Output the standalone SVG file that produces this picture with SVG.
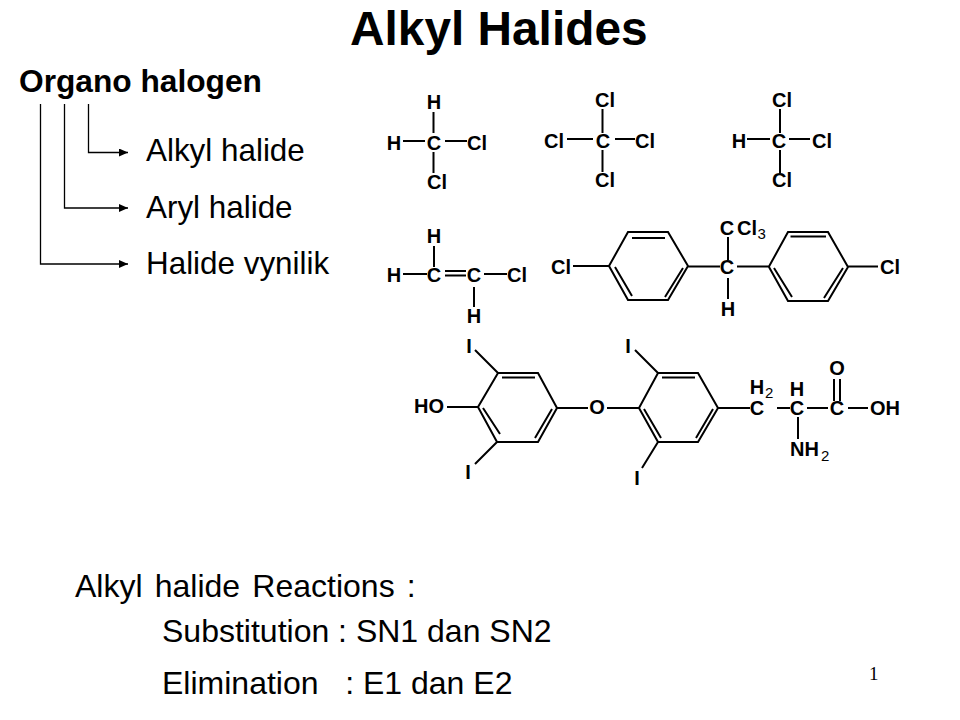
<svg xmlns="http://www.w3.org/2000/svg" width="960" height="720" viewBox="0 0 960 720">
<style>
text{font-family:"Liberation Sans",Arial,sans-serif;fill:#000}
.title{font-size:47.800px;font-weight:bold}
.head{font-size:31.700px;font-weight:bold}
.t{font-size:31.400px}
.r{font-size:32px}
.a{font-size:20px;font-weight:bold;text-anchor:middle}
.n{font-size:20px;font-weight:bold}
.s{font-size:15px}
.b{stroke:#000;stroke-width:2;fill:none;stroke-linecap:butt;stroke-linejoin:miter}
.c{stroke:#000;stroke-width:1.300;fill:none}
</style>
<defs><marker id="arrow" markerUnits="userSpaceOnUse" markerWidth="9" markerHeight="8" refX="9" refY="4" orient="auto"><path d="M0 0L9 4L0 8Z" fill="#000"/></marker></defs>
<rect width="960" height="720" fill="#fff"/>
<g id="title"><text class="title" x="350" y="45">Alkyl Halides</text></g>
<g id="organo-halogen"><text class="head" x="19" y="92">Organo halogen</text></g>
<g id="connectors">
<path class="c" marker-end="url(#arrow)" d="M88.500 104V152.500H128"/>
<path class="c" marker-end="url(#arrow)" d="M64.500 104V208H128"/>
<path class="c" marker-end="url(#arrow)" d="M40.500 104V264H128"/>
</g>
<g id="alkyl-halide"><text class="t" x="146" y="161">Alkyl halide</text></g>
<g id="aryl-halide"><text class="t" x="146" y="218">Aryl halide</text></g>
<g id="halide-vynilik"><text class="t" x="146" y="274">Halide vynilik</text></g>

<g id="mol-ch2cl2">
<path class="b" d="M433.500 112V133M433.500 152V173M403 141H425M445 141H467"/>
<text class="a" x="434" y="109">H</text><text class="a" x="394" y="150">H</text><text class="a" x="434" y="150">C</text><text class="a" x="477" y="150">Cl</text><text class="a" x="437" y="189">Cl</text>
</g>
<g id="mol-ccl4">
<path class="b" d="M602.500 109V133M602.500 150V172M567 139H593M615 139H635"/>
<text class="a" x="605" y="107">Cl</text><text class="a" x="554" y="148">Cl</text><text class="a" x="603" y="148">C</text><text class="a" x="645" y="148">Cl</text><text class="a" x="605" y="187">Cl</text>
</g>
<g id="mol-chcl3">
<path class="b" d="M780 109V133M780 150V173M747 139H770M789 139H810"/>
<text class="a" x="782" y="107">Cl</text><text class="a" x="739" y="148">H</text><text class="a" x="779" y="148">C</text><text class="a" x="822" y="148">Cl</text><text class="a" x="782" y="187">Cl</text>
</g>
<g id="mol-vinyl">
<path class="b" d="M434 246V267M403 274H427M445 271H466M445 275.500H466M484 274H507M474 287V307"/>
<text class="a" x="434" y="243">H</text><text class="a" x="394" y="282">H</text><text class="a" x="434" y="282">C</text><text class="a" x="474" y="282">C</text><text class="a" x="517" y="282">Cl</text><text class="a" x="474" y="323">H</text>
</g>
<g id="mol-ddt">
<path class="b" d="M573 266H609L628 232H668L688 266L668 300H628L609 266M632 238H665M615 267L632 296M683 268L665 297M688 266.500H720M737 266.500H769L788 232H828L848 267L828 301H788L769 267M790.500 236.500H826M774 268L792 297M843 268L824 298M848 266.500H878M728 237V260M728 278V299"/>
<text class="a" x="561" y="274">Cl</text><text class="a" x="727" y="274">C</text><text class="a" x="890" y="274">Cl</text><text class="a" x="728" y="316">H</text>
<text class="a" x="727" y="235">C</text><text class="a" x="747" y="235">Cl</text><text class="s" x="757.500" y="239">3</text>
</g>
<g id="mol-thyroxine">
<path class="b" d="M447 407H478L498 373H538L557 408L538 442H497L478 407M502 377.500H535M483 408L500 434M552 409L535 438M475 350L498 373M497 442L475 464M557 408H588M607 408H639L658 373H698L718 408L698 442H658L639 408M662 377.500H695M644 409L661 438M713 409L696 438M635 350L658 373M658 442L642 468M718 408H750M777 408H790M807 408H828M848 408H868M798 417V439M834 379V401M840 379V401"/>
<text class="a" x="429" y="413">HO</text><text class="a" x="469" y="353">I</text><text class="a" x="468" y="479">I</text><text class="a" x="597" y="414">O</text><text class="a" x="628" y="353">I</text><text class="a" x="637" y="485">I</text>
<text class="a" x="757" y="415">C</text><text class="a" x="757" y="394">H</text><text class="s" x="765" y="398">2</text>
<text class="a" x="797" y="415">C</text><text class="a" x="797" y="396">H</text><text class="n" x="790" y="456">NH</text><text class="s" x="821" y="461">2</text>
<text class="a" x="837" y="415">C</text><text class="a" x="837" y="375">O</text><text class="a" x="885" y="415">OH</text>
</g>
<g id="reactions">
<text class="r" x="75" y="597" word-spacing="3.300">Alkyl halide Reactions :</text>
<text class="r" x="162" y="642">Substitution : SN1 dan SN2</text>
<text class="r" x="162" y="694" xml:space="preserve">Elimination   : E1 dan E2</text>
</g>
<g id="page-number"><text x="869" y="680" style="font-family:'Liberation Serif',serif;font-size:19px">1</text></g>
</svg>
